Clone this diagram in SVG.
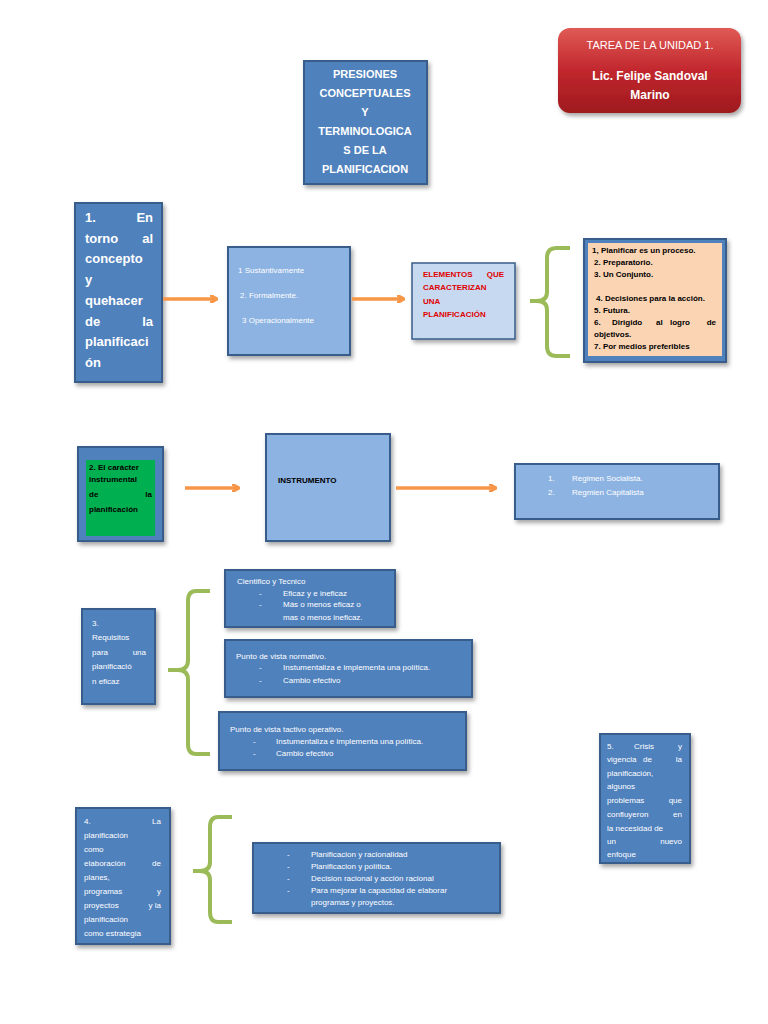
<svg xmlns="http://www.w3.org/2000/svg" width="768" height="1024" viewBox="0 0 768 1024">
<defs>
<linearGradient id="red" x1="0" y1="0" x2="0" y2="1"><stop offset="0" stop-color="#e05a55"/><stop offset="0.5" stop-color="#c1272d"/><stop offset="1" stop-color="#9e1a1e"/></linearGradient>
<filter id="sh" x="-10%" y="-10%" width="130%" height="130%"><feDropShadow dx="2" dy="3" stdDeviation="2" flood-color="#000" flood-opacity="0.35"/></filter>
<marker id="ah" markerWidth="8" markerHeight="8" refX="6" refY="4" orient="auto" markerUnits="userSpaceOnUse"><path d="M0,0 L7,4 L0,8" fill="none" stroke="#f79646" stroke-width="3"/></marker>
</defs>
<style>
text{font-family:"Liberation Sans",Arial,sans-serif;}
.b{fill:#4f81bd;stroke:#385d8a;stroke-width:2;filter:url(#sh);}
.lb{fill:#8db3e2;stroke:#385d8a;stroke-width:2;filter:url(#sh);}
.w{fill:#fff;font-size:8px;}
.wb{fill:#fff;font-size:8px;font-weight:bold;}
.k{fill:#000;font-size:8px;font-weight:bold;}
.arr{stroke:#f79646;stroke-width:3.5;fill:none;marker-end:url(#ah);}
.br{stroke:#9bbb59;stroke-width:4;fill:none;}
</style>
<rect width="768" height="1024" fill="#fff"/>
<g id="tarea"><rect x="558" y="28" width="183" height="85" rx="12" fill="url(#red)" filter="url(#sh)"/>
<text x="650" y="49" text-anchor="middle" fill="#fff" font-size="11">TAREA DE LA UNIDAD 1.</text>
<text x="650" y="80" text-anchor="middle" fill="#fff" font-size="12" font-weight="bold">Lic. Felipe Sandoval</text>
<text x="650" y="99" text-anchor="middle" fill="#fff" font-size="12" font-weight="bold">Marino</text></g>
<g id="titulo"><rect class="b" x="304" y="61" width="123" height="123"/>
<g fill="#fff" font-size="11" font-weight="bold" text-anchor="middle"><text x="365" y="78">PRESIONES</text><text x="365" y="97">CONCEPTUALES</text><text x="365" y="116">Y</text><text x="365" y="135">TERMINOLOGICA</text><text x="365" y="154">S DE LA</text><text x="365" y="173">PLANIFICACION</text></g></g>
<g id="n1"><rect class="b" x="75" y="203" width="87" height="179"/>
<g fill="#fff" font-size="13" font-weight="bold"><text x="85" y="222">1.</text><text x="153" y="222" text-anchor="end">En</text><text x="85" y="243">torno</text><text x="153" y="243" text-anchor="end">al</text><text x="85" y="263">concepto</text><text x="85" y="284">y</text><text x="85" y="305">quehacer</text><text x="85" y="326">de</text><text x="153" y="326" text-anchor="end">la</text><text x="85" y="346">planificaci</text><text x="85" y="367">ón</text></g></g>
<g id="modos"><rect class="lb" x="228" y="247" width="122" height="108"/>
<text class="w" x="238" y="273">1 Sustantivamente</text><text class="w" x="240" y="298">2. Formalmente.</text><text class="w" x="242" y="323">3 Operacionalmente</text></g>
<g id="elementos"><rect x="412" y="263" width="103" height="76" fill="#c6d9f1" stroke="#385d8a" stroke-width="1.5" filter="url(#sh)"/>
<g fill="#e00000" font-size="8" font-weight="bold"><text x="423" y="277">ELEMENTOS</text><text x="504" y="277" text-anchor="end">QUE</text><text x="423" y="290">CARACTERIZAN</text><text x="423" y="304">UNA</text><text x="423" y="317">PLANIFICACIÓN</text></g></g>
<g id="lista1"><rect class="b" x="584" y="239" width="142" height="123"/><rect x="588" y="243" width="134" height="113" fill="#fbd4b4"/>
<text class="k" x="592" y="253">1, Planificar es un proceso.</text><text class="k" x="594" y="265">2. Preparatorio.</text><text class="k" x="594" y="277">3. Un Conjunto.</text><text class="k" x="596" y="301">4. Decisiones para la acción.</text><text class="k" x="594" y="313">5. Futura.</text><text class="k" x="594" y="325">6.</text><text class="k" x="612" y="325">Dirigido</text><text class="k" x="656" y="325">al</text><text class="k" x="670" y="325">logro</text><text class="k" x="716" y="325" text-anchor="end">de</text><text class="k" x="594" y="337">objetivos.</text><text class="k" x="594" y="349">7. Por medios preferibles</text></g>
<g id="n2"><rect class="b" x="78" y="447" width="85" height="94"/><rect x="86" y="460" width="69" height="76" fill="#00b050"/>
<text class="k" x="89" y="470">2. El carácter</text><text class="k" x="89" y="482">instrumental</text><text class="k" x="89" y="497">de</text><text class="k" x="152" y="497" text-anchor="end">la</text><text class="k" x="89" y="512">planificación</text></g>
<g id="instrumento"><rect class="lb" x="266" y="434" width="124" height="107"/><text class="k" x="278" y="483">INSTRUMENTO</text></g>
<g id="regimen"><rect class="lb" x="515" y="464" width="204" height="55"/>
<text class="w" x="548" y="481">1.</text><text class="w" x="572" y="481">Regimen Socialista.</text><text class="w" x="548" y="495">2.</text><text class="w" x="572" y="495">Regmien Capitalista</text></g>
<g id="n3"><rect class="b" x="82" y="609" width="73" height="95"/>
<text class="w" x="92" y="626">3.</text><text class="w" x="92" y="640">Requisitos</text><text class="w" x="92" y="655">para</text><text class="w" x="146" y="655" text-anchor="end">una</text><text class="w" x="92" y="669">planificació</text><text class="w" x="92" y="684">n eficaz</text></g>
<g id="cientifico"><rect class="b" x="225" y="570" width="170" height="57"/>
<text class="w" x="237" y="584">Cientifico y Tecnico</text><text class="w" x="259" y="596">-</text><text class="w" x="283" y="596">Eficaz y e ineficaz</text><text class="w" x="259" y="607">-</text><text class="w" x="283" y="607">Más o menos eficaz o</text><text class="w" x="283" y="620">mas o menos ineficaz.</text></g>
<g id="normativo"><rect class="b" x="225" y="640" width="247" height="57"/>
<text class="w" x="236" y="659">Punto de vista normativo.</text><text class="w" x="259" y="670">-</text><text class="w" x="283" y="670">Instumentaliza e implementa una política.</text><text class="w" x="259" y="683">-</text><text class="w" x="283" y="683">Cambio efectivo</text></g>
<g id="tactivo"><rect class="b" x="219" y="712" width="247" height="58"/>
<text class="w" x="230" y="732">Punto de vista tactivo operativo.</text><text class="w" x="253" y="744">-</text><text class="w" x="276" y="744">Instumentaliza e implementa una política.</text><text class="w" x="253" y="756">-</text><text class="w" x="276" y="756">Cambio efectivo</text></g>
<g id="n5"><rect class="b" x="600" y="734" width="90" height="129"/>
<g class="w"><text x="607" y="749">5.</text><text x="634" y="749">Crisis</text><text x="682" y="749" text-anchor="end">y</text><text x="607" y="762">vigencia</text><text x="643" y="762">de</text><text x="682" y="762" text-anchor="end">la</text><text x="607" y="776">planificación,</text><text x="607" y="789">algunos</text><text x="607" y="803">problemas</text><text x="682" y="803" text-anchor="end">que</text><text x="607" y="817">confluyeron</text><text x="682" y="817" text-anchor="end">en</text><text x="607" y="831">la necesidad de</text><text x="607" y="844">un</text><text x="682" y="844" text-anchor="end">nuevo</text><text x="607" y="857">enfoque</text></g></g>
<g id="n4"><rect class="b" x="76" y="808" width="94" height="136"/>
<g class="w"><text x="84" y="824">4.</text><text x="161" y="824" text-anchor="end">La</text><text x="84" y="838">planificación</text><text x="84" y="852">como</text><text x="84" y="866">elaboración</text><text x="161" y="866" text-anchor="end">de</text><text x="84" y="880">planes,</text><text x="84" y="894">programas</text><text x="161" y="894" text-anchor="end">y</text><text x="84" y="908">proyectos</text><text x="161" y="908" text-anchor="end">y la</text><text x="84" y="922">planificación</text><text x="84" y="936">como estrategia</text></g></g>
<g id="planes"><rect class="b" x="253" y="843" width="247" height="70"/>
<g class="w"><text x="287" y="857">-</text><text x="311" y="857">Planificacion y racionalidad</text><text x="287" y="869">-</text><text x="311" y="869">Planificacion y política.</text><text x="287" y="881">-</text><text x="311" y="881">Decision racional y acción racional</text><text x="287" y="893">-</text><text x="311" y="893">Para mejorar la capacidad de elaborar</text><text x="311" y="905">programas y proyectos.</text></g></g>
<g id="conectores">
<path class="arr" d="M163,299 H216"/><path class="arr" d="M352,299 H403"/>
<path class="arr" d="M185,488 H238"/><path class="arr" d="M396,488 H495"/>
<path class="br" d="M570,248 H556 Q547,248 547,258 V292 Q547,301 537,301 H530 H537 Q547,301 547,310 V346 Q547,356 556,356 H570"/>
<path class="br" d="M210,591 H196 Q188,591 188,601 V660 Q188,670 178,670 H168 H178 Q188,670 188,680 V744 Q188,754 196,754 H210"/>
<path class="br" d="M232,817 H218 Q210,817 210,827 V862 Q210,871 200,871 H193 H200 Q210,871 210,880 V912 Q210,922 218,922 H232"/>
</g>
</svg>
